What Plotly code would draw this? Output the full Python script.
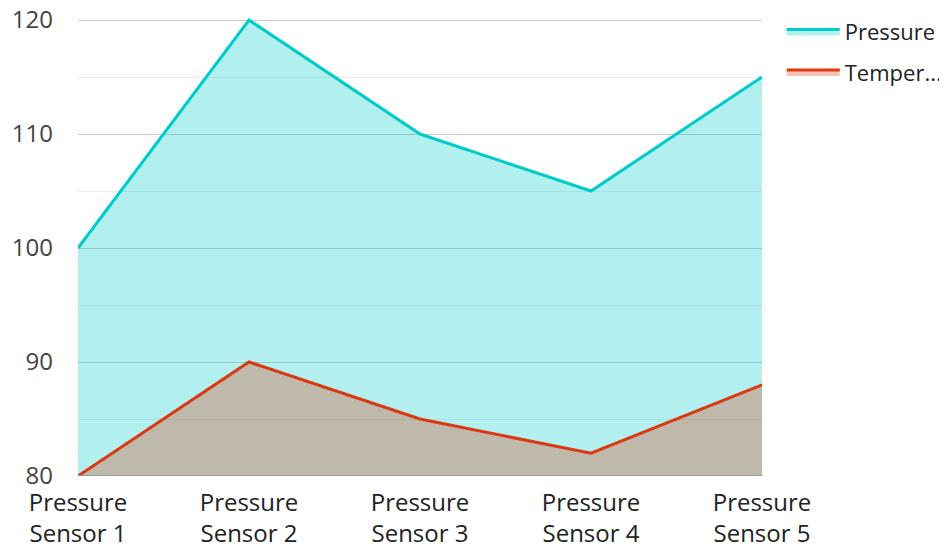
import plotly.graph_objects as go

categories = ["Pressure<br>Sensor 1", "Pressure<br>Sensor 2", "Pressure<br>Sensor 3",
              "Pressure<br>Sensor 4", "Pressure<br>Sensor 5"]
pressure = [100, 120, 110, 105, 115]
temperature = [80, 90, 85, 82, 88]
y_ticks = [80, 90, 100, 110, 120]

fig = go.Figure()
fig.add_trace(go.Scatter(
    x=categories, y=pressure, name="Pressure", mode="lines", legendgroup="p",
    line=dict(color="#00CCCC", width=3),
    fill="tozeroy", fillcolor="rgba(0,204,204,0.3)"))
fig.add_trace(go.Scatter(
    x=categories, y=temperature, name="Temper...", mode="lines", legendgroup="t",
    line=dict(color="#DC3912", width=3),
    fill="tozeroy", fillcolor="rgba(222,58,18,0.3)"))

fig.update_layout(
    width=939, height=539,
    margin=dict(l=70, r=185, t=10, b=71),
    paper_bgcolor="white", plot_bgcolor="white",
    font=dict(family="Open Sans", size=24, color="#222"),
    legend=dict(xref="container", yref="container", x=0.824, y=0.995,
                xanchor="left", yanchor="top", traceorder="grouped",
                font=dict(size=22, color="#222"), itemwidth=53,
                tracegroupgap=9, bgcolor="rgba(0,0,0,0)"),
    xaxis=dict(range=[0, 4], showgrid=False, zeroline=False, showline=False,
               ticks="", automargin=False, ticklabelstandoff=10,
               ticklabeloverflow="allow",
               tickfont=dict(size=24, color="#222")),
    yaxis=dict(range=[80, 120.18], tickvals=y_ticks, showgrid=True, gridcolor="#cccccc",
               gridwidth=1, zeroline=False, showline=False, ticks="", automargin=False,
               ticklabeloverflow="allow",
               tickfont=dict(size=24, color="#444"), ticklabelstandoff=24,
               minor=dict(dtick=5, showgrid=True, gridcolor="#ebebeb", gridwidth=1)),
)
fig.add_hline(y=80, line=dict(color="#999999", width=2), layer="above")
fig.write_html("out.html")
